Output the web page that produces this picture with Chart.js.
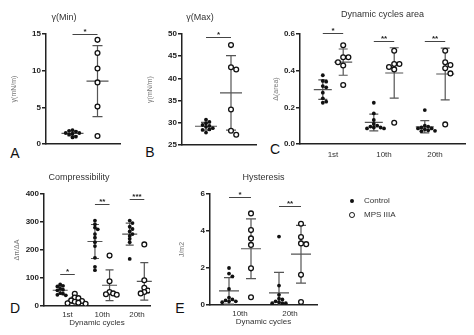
<!DOCTYPE html>
<html>
<head>
<meta charset="utf-8">
<script src="https://cdn.jsdelivr.net/npm/chart.js@4.4.0/dist/chart.umd.min.js"></script>
<style>
  html, body { margin: 0; padding: 0; background: #fff; }
  #fig { position: relative; width: 474px; height: 335px; overflow: hidden;
         font-family: "Liberation Sans", Arial, sans-serif; color: #111; }
  #fig canvas { position: absolute; }
  .tag { position: absolute; font-size: 14px; line-height: 14px; transform: translate(-50%, -50%); }
  .key { position: absolute; font-size: 8px; line-height: 10px; color: #333;
         will-change: transform; -webkit-font-smoothing: antialiased; }
  .key i { position: absolute; top: 50%; border-radius: 50%; box-sizing: border-box; }
  .key .ctl { left: -14px; width: 3.8px; height: 3.8px; margin-top: -1.9px; background: #111; }
  .key .mps { left: -15px; width: 5.8px; height: 5.8px; margin-top: -2.9px; border: 1.3px solid #111; background: #fff; }
</style>
</head>
<body>
<div id="fig">
  <div class="tag" style="left:15px;top:153px">A</div>
  <div class="tag" style="left:150px;top:152px">B</div>
  <div class="tag" style="left:275px;top:149px">C</div>
  <div class="tag" style="left:15px;top:308px">D</div>
  <div class="tag" style="left:180px;top:308px">E</div>
  <div class="key" style="left:364px;top:196px"><i class="ctl"></i>Control</div>
  <div class="key" style="left:364px;top:210px"><i class="mps"></i>MPS IIIA</div>
</div>
<script>
// surface tension, mN/m
const minControl = [1.9, 1.7, 1.8, 1.5, 1.4, 1.5, 1.3, 0.9, 1.0];
const minMps = [14.2, 12.4, 10.3, 8.4, 5.1, 1.1];
const maxControl = [30.7, 30.2, 29.9, 29.5, 29.3, 29.1, 28.8, 28.5, 28.4, 27.8];
const maxMps = [47.5, 42.5, 42.0, 33.0, 28.2, 27.3];

// dynamic cycles: 1st, 10th, 20th
const cycles = ['1st', '10th', '20th'];
const areaControl = [
  [0.375, 0.344, 0.34, 0.316, 0.309, 0.28, 0.249, 0.231, 0.225],
  [0.225, 0.167, 0.131, 0.109, 0.1, 0.095, 0.09, 0.09, 0.085, 0.085],
  [0.185, 0.1, 0.095, 0.09, 0.085, 0.085, 0.08, 0.075, 0.072, 0.07]
];
const areaMps = [
  [0.538, 0.473, 0.473, 0.446, 0.428, 0.322],
  [0.509, 0.436, 0.436, 0.42, 0.407, 0.116],
  [0.509, 0.446, 0.431, 0.413, 0.385, 0.107]
];
const compControl = [
  [77, 72, 70, 62, 58, 56, 46, 44, 40, 38],
  [305, 292, 280, 274, 257, 244, 228, 214, 172, 140, 128],
  [305, 296, 283, 275, 266, 257, 250, 240, 228, 168]
];
const compMps = [
  [44, 30, 28, 20, 18, 15, 12, 10, 8],
  [180, 88, 50, 45, 42, 40],
  [220, 92, 65, 55, 50, 45]
];
const hystCycles = ['10th', '20th'];
const hystControl = [
  [2.0, 1.7, 1.55, 0.87, 0.4, 0.3, 0.25, 0.2, 0.2, 0.15],
  [3.7, 1.05, 0.55, 0.35, 0.3, 0.2, 0.15, 0.1, 0.1, 0.1]
];
const hystMps = [
  [4.95, 4.05, 3.6, 3.25, 1.98, 0.42],
  [4.39, 3.67, 3.33, 3.29, 1.63, 0.16]
];

// significance brackets: stars and bracket height (axis units)
const minStars = ['*'], minSigAt = [15];
const maxStars = ['*'], maxSigAt = [49.4];
const areaStars = ['*', '**', '**'], areaSigAt = [0.604, 0.563, 0.563];
const compStars = ['*', '**', '***'], compSigAt = [116, 364, 383];
const hystStars = ['*', '**'], hystSigAt = [5.84, 5.36];

const FONT = '"Liberation Sans", Arial, sans-serif';
Chart.defaults.font.family = FONT;
const fig = document.getElementById('fig');

const mean = a => a.reduce((s, v) => s + v, 0) / a.length;
const sd = a => { const m = mean(a); return Math.sqrt(a.reduce((s, v) => s + (v - m) ** 2, 0) / (a.length - 1)); };

// spread points sideways so markers don't sit on top of each other
function swarm(vals, cx, pxX, pxY, d) {
  const out = [];
  vals.forEach(v => {
    for (let k = 0; k < 30; k++) {
      const slot = k === 0 ? 0 : (k % 2 ? 1 : -1) * Math.ceil(k / 2);
      const x = cx + slot * d / pxX;
      const hit = out.some(p => Math.hypot((p.x - x) * pxX, (p.y - v) * pxY) < d - 0.01);
      if (!hit) { out.push({ x: x, y: v }); break; }
    }
  });
  return out;
}

function makePanel(o) {
  const [bx, by, bw, bh] = o.box;
  const [al, at, ar, ab] = o.area;
  const gap = o.gap || [3.4, 5.2];
  const cv = document.createElement('canvas');
  cv.width = bw; cv.height = bh;
  cv.style.left = bx + 'px'; cv.style.top = by + 'px';
  fig.appendChild(cv);

  const pxX = (ar - al) / (o.xMax - o.xMin);
  const pxY = (ab - at) / (o.yMax - o.yMin);

  const groups = [];
  const ctlPts = [], mpsPts = [];
  o.control.forEach((vals, i) => {
    const cx = i - o.shift, mx = i + o.shift;
    ctlPts.push(...swarm(vals, cx, pxX, pxY, gap[0]));
    mpsPts.push(...swarm(o.mps[i], mx, pxX, pxY, gap[1]));
    groups.push({ x: cx, mean: mean(vals), sd: sd(vals) });
    groups.push({ x: mx, mean: mean(o.mps[i]), sd: sd(o.mps[i]) });
  });

  const titlePad = at - o.titleY - 5.4;

  // mean line, SD whiskers and significance brackets
  const summary = {
    id: 'summary',
    beforeDatasetsDraw(chart) {
      const { ctx, scales: { x, y } } = chart;
      ctx.save();
      ctx.strokeStyle = '#555';
      ctx.lineWidth = 1.2;
      groups.forEach(g => {
        const px = x.getPixelForValue(g.x);
        const pm = y.getPixelForValue(g.mean);
        const hi = y.getPixelForValue(g.mean + g.sd);
        const lo = y.getPixelForValue(Math.max(g.mean - g.sd, o.yMin));
        ctx.beginPath();
        ctx.moveTo(px - o.meanW, pm); ctx.lineTo(px + o.meanW, pm);
        ctx.moveTo(px, hi); ctx.lineTo(px, lo);
        ctx.moveTo(px - o.capW, hi); ctx.lineTo(px + o.capW, hi);
        if (g.mean - g.sd > o.yMin) { ctx.moveTo(px - o.capW, lo); ctx.lineTo(px + o.capW, lo); }
        ctx.stroke();
      });
      ctx.restore();
    },
    afterDraw(chart) {
      const { ctx, scales: { x, y } } = chart;
      ctx.save();
      ctx.strokeStyle = '#444';
      ctx.fillStyle = '#222';
      ctx.lineWidth = 1;
      ctx.font = 'bold 8px ' + FONT;
      ctx.textAlign = 'center';
      ctx.textBaseline = 'bottom';
      o.stars.forEach((s, i) => {
        const x1 = x.getPixelForValue(i - o.shift), x2 = x.getPixelForValue(i + o.shift);
        const py = Math.round(y.getPixelForValue(o.sigAt[i])) + 0.5;
        ctx.beginPath(); ctx.moveTo(x1, py); ctx.lineTo(x2, py); ctx.stroke();
        ctx.fillText(s, (x1 + x2) / 2, py + 1);
      });
      ctx.restore();
    }
  };

  return new Chart(cv, {
    type: 'scatter',
    data: {
      datasets: [
        { label: 'Control', data: ctlPts, pointRadius: 1.9, pointBackgroundColor: '#111',
          pointBorderColor: '#111', pointBorderWidth: 0 },
        { label: 'MPS IIIA', data: mpsPts, pointRadius: 2.4, pointBackgroundColor: '#fff',
          pointBorderColor: '#111', pointBorderWidth: 1.3 }
      ]
    },
    options: {
      responsive: false,
      animation: false,
      events: [],
      layout: { padding: { left: al - bx - o.yw, right: bx + bw - ar,
                           top: at - by - 10.8 - titlePad, bottom: by + bh - ab - o.xh } },
      plugins: {
        legend: { display: false },
        tooltip: { enabled: false },
        title: { display: true, text: o.title, fullSize: o.full, color: '#333',
                 font: { size: 9, weight: 'normal' }, padding: { top: 0, bottom: titlePad } }
      },
      scales: {
        x: {
          type: 'linear', min: o.xMin, max: o.xMax,
          afterFit: s => { s.height = o.xh; },
          afterBuildTicks: s => { s.ticks = o.cats.map((c, i) => ({ value: i })); },
          grid: { display: false, drawTicks: false },
          border: { color: '#222', width: 1.5 },
          ticks: { display: o.cats.length > 0, padding: o.xpad || 0, color: '#333',
                   font: { size: 8 }, callback: v => o.cats[Math.round(v)] },
          title: { display: !!o.xTitle, text: o.xTitle, color: '#333', font: { size: 8 }, padding: 0 }
        },
        y: {
          min: o.yMin, max: o.yMax,
          afterFit: s => { s.width = o.yw; },
          ticks: { stepSize: o.step, padding: 1, color: '#222', font: { size: 8, weight: 'bold' },
                   callback: v => o.step < 1 ? v.toFixed(1) : v },
          grid: { drawOnChartArea: false, drawTicks: true, tickLength: 4, color: '#222', lineWidth: 1.5 },
          border: { color: '#222', width: 1.5 },
          title: { display: true, text: o.yTitle, color: '#777', font: { size: 7 },
                   padding: { top: o.ytPad, bottom: 0 } }
        }
      }
    },
    plugins: [summary]
  });
}

makePanel({ box: [0, 0, 170, 165], area: [46, 34, 120, 144], xMin: -1.56, xMax: 1.4,
  yMin: 0, yMax: 15, step: 5, yw: 38, xh: 8, titleY: 17.5, full: true, title: 'γ(Min)',
  yTitle: 'γ(mN/m)', ytPad: 2, cats: [], shift: 0.5, meanW: 11, capW: 5,
  control: [minControl], mps: [minMps], stars: minStars, sigAt: minSigAt });

makePanel({ box: [140, 0, 156, 165], area: [182, 34, 256, 145], xMin: -1.46, xMax: 1.5,
  yMin: 25, yMax: 50, step: 5, yw: 38, xh: 8, titleY: 18, full: true, title: 'γ(Max)',
  yTitle: 'γ(mN/m)', ytPad: 2, cats: [], shift: 0.5, meanW: 11, capW: 5,
  control: [maxControl], mps: [maxMps], stars: maxStars, sigAt: maxSigAt });

makePanel({ box: [262, 0, 212, 165], area: [300, 34, 465, 144], xMin: -0.647, xMax: 2.588,
  yMin: 0, yMax: 0.6, step: 0.2, yw: 30, xh: 18, xpad: 6, titleY: 15, full: false,
  title: 'Dynamic cycles area', yTitle: 'Δ(area)', ytPad: 2, cats: cycles, shift: 0.2,
  meanW: 9, capW: 4.5, control: areaControl, mps: areaMps, stars: areaStars, sigAt: areaSigAt });

makePanel({ box: [0, 165, 206, 170], area: [44, 194, 150, 306], xMin: -0.676, xMax: 2.374,
  yMin: 0, yMax: 400, step: 100, yw: 36, xh: 22, xpad: 3.5, titleY: 178, full: true,
  title: 'Compressibility', yTitle: 'Δπ/ΔA', ytPad: 5, cats: cycles, xTitle: 'Dynamic cycles',
  shift: 0.21, meanW: 7.5, capW: 4, gap: [2.8, 3.6],
  control: compControl, mps: compMps, stars: compStars, sigAt: compSigAt });

makePanel({ box: [172, 165, 160, 170], area: [210, 194, 317, 305], xMin: -0.6, xMax: 1.54,
  yMin: 0, yMax: 6, step: 2, yw: 34, xh: 22, xpad: 3.5, titleY: 178, full: false,
  title: 'Hysteresis', yTitle: 'J/m2', ytPad: 2, cats: hystCycles, xTitle: 'Dynamic cycles',
  shift: 0.22, meanW: 10, capW: 5, control: hystControl, mps: hystMps, stars: hystStars, sigAt: hystSigAt });
</script>
</body>
</html>
